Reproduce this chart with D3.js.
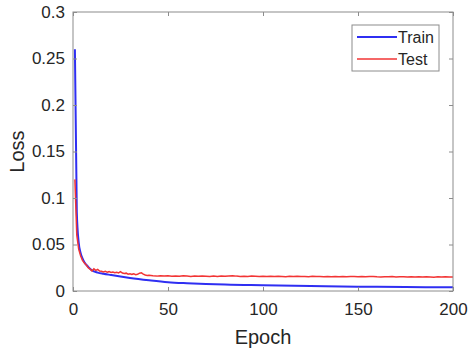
<!DOCTYPE html>
<html>
<head>
<meta charset="utf-8">
<script src="https://cdn.jsdelivr.net/npm/d3@7"></script>
<style>
  body { margin: 0; background: #fff; }
  svg { display: block; }
</style>
</head>
<body>
<div id="chart"></div>
<script>
// train loss (smooth)
const trainEpochs = [1, 2, 3, 4, 5, 6, 8, 10, 13, 16, 20, 25, 30, 40, 50, 60, 70, 80, 90, 100, 125, 150, 175, 200];
const trainLoss = [0.260, 0.085, 0.052, 0.041, 0.035, 0.031, 0.026, 0.0222, 0.0198, 0.0185, 0.0172, 0.0156, 0.0141, 0.0116, 0.0095, 0.0084, 0.0076, 0.0070, 0.0065, 0.0061, 0.0053, 0.0047, 0.0042, 0.0039];

// test loss (noisy)
const testEpochs = [1, 2, 3, 4, 5, 6, 7, 8, 9, 10, 11, 12, 13, 14, 15, 16, 17, 18, 19, 20,
  21, 22, 23, 24, 25, 26, 27, 28, 29, 30, 31, 32, 33, 34, 35, 36, 37, 38, 39, 40,
  42, 44, 46, 48, 50, 52, 54, 56, 58, 60, 62, 64, 66, 68, 70, 72, 74, 76, 78, 80,
  82, 84, 86, 88, 90, 92, 94, 96, 98, 100, 102, 104, 106, 108, 110, 112, 114, 116, 118, 120,
  122, 124, 126, 128, 130, 132, 134, 136, 138, 140, 142, 144, 146, 148, 150, 152, 154, 156, 158, 160,
  162, 164, 166, 168, 170, 172, 174, 176, 178, 180, 182, 184, 186, 188, 190, 192, 194, 196, 198, 200];
const testLoss = [0.120, 0.060, 0.045, 0.038, 0.033, 0.030, 0.028, 0.025, 0.0235, 0.0215, 0.0238, 0.0222, 0.0232, 0.0215, 0.0212, 0.0205, 0.0212, 0.0203, 0.0208, 0.0199,
  0.0204, 0.0197, 0.0202, 0.0194, 0.0208, 0.0193, 0.0188, 0.0192, 0.0181, 0.0186, 0.0179, 0.0184, 0.0176, 0.0179, 0.0192, 0.0196, 0.0182, 0.0172, 0.0168, 0.0170,
  0.0163, 0.0160, 0.0165, 0.0161, 0.0164, 0.0159, 0.0162, 0.0158, 0.0163, 0.0160, 0.0157, 0.0161, 0.0158, 0.0162, 0.0159, 0.0156, 0.0160, 0.0157, 0.0161, 0.0158,
  0.0162, 0.0165, 0.0160, 0.0157, 0.0159, 0.0156, 0.0160, 0.0158, 0.0155, 0.0158, 0.0156, 0.0159, 0.0155, 0.0158, 0.0157, 0.0154, 0.0158, 0.0156, 0.0159, 0.0155,
  0.0157, 0.0154, 0.0158, 0.0155, 0.0157, 0.0153, 0.0156, 0.0154, 0.0157, 0.0153, 0.0156, 0.0152, 0.0155, 0.0157, 0.0153, 0.0156, 0.0152, 0.0155, 0.0157, 0.0153,
  0.0151, 0.0154, 0.0152, 0.0155, 0.0151, 0.0154, 0.0152, 0.0150, 0.0153, 0.0151, 0.0154, 0.0150, 0.0153, 0.0151, 0.0149, 0.0152, 0.0150, 0.0153, 0.0150, 0.0151];

const xTicks = [0, 50, 100, 150, 200];
const yTicks = [0, 0.05, 0.1, 0.15, 0.2, 0.25, 0.3];
const seriesNames = ["Train", "Test"];
const seriesColors = ["#2f2ff2", "#f23434"];

var margin = {top: 12, right: 21, bottom: 60, left: 73};
var width = 474 - margin.left - margin.right,
    height = 351 - margin.top - margin.bottom;

const font = "'Liberation Sans', Arial, sans-serif";
const axisColor = "#8c8c8c";

const svg = d3.select("#chart")
  .append("svg")
  .attr("width", 474)
  .attr("height", 351)
  .append("g")
  .attr("transform", "translate(" + margin.left + "," + margin.top + ")");

const x = d3.scaleLinear().domain([0, 200]).range([0, width]);
const y = d3.scaleLinear().domain([0, 0.3]).range([height, 0]);

// lines
const line = d3.line()
  .x(d => x(d[0]))
  .y(d => y(d[1]))
  .curve(d3.curveMonotoneX);

const train = d3.zip(trainEpochs, trainLoss);
const test = d3.zip(testEpochs, testLoss);

svg.append("path")
  .datum(train)
  .attr("fill", "none")
  .attr("stroke", seriesColors[0])
  .attr("stroke-width", 2)
  .attr("d", line);

svg.append("path")
  .datum(test)
  .attr("fill", "none")
  .attr("stroke", seriesColors[1])
  .attr("stroke-width", 1.5)
  .attr("d", d3.line().x(d => x(d[0])).y(d => y(d[1])));

// axes, ticks inward on all four sides
function styleAxis(g) {
  g.select(".domain").remove();
  g.selectAll(".tick line").attr("stroke", axisColor);
  g.selectAll(".tick text")
    .attr("fill", "#262626")
    .attr("font-family", font)
    .attr("font-size", "17px");
}

svg.append("g")
  .attr("transform", `translate(0,${height})`)
  .call(d3.axisBottom(x).tickValues(xTicks).tickSizeInner(-4).tickSizeOuter(0).tickPadding(12).tickFormat(d3.format("d")))
  .call(styleAxis);

svg.append("g")
  .call(d3.axisLeft(y).tickValues(yTicks).tickSizeInner(-4).tickSizeOuter(0).tickPadding(8).tickFormat(d => d3.format("")(+d.toFixed(2))))
  .call(styleAxis);

svg.append("g")
  .call(d3.axisTop(x).tickValues(xTicks).tickSizeInner(-4).tickSizeOuter(0).tickFormat(""))
  .call(styleAxis);

svg.append("g")
  .attr("transform", `translate(${width},0)`)
  .call(d3.axisRight(y).tickValues(yTicks).tickSizeInner(-4).tickSizeOuter(0).tickFormat(""))
  .call(styleAxis);

// box
svg.append("rect")
  .attr("width", width)
  .attr("height", height)
  .attr("fill", "none")
  .attr("stroke", axisColor)
  .attr("stroke-width", 1);

// axis labels
svg.append("text")
  .attr("x", width / 2)
  .attr("y", height + 53)
  .attr("text-anchor", "middle")
  .attr("font-family", font)
  .attr("font-size", "20px")
  .attr("fill", "#262626")
  .text("Epoch");

svg.append("text")
  .attr("transform", `translate(${-49},${height / 2}) rotate(-90)`)
  .attr("text-anchor", "middle")
  .attr("font-family", font)
  .attr("font-size", "20px")
  .attr("fill", "#262626")
  .text("Loss");

// legend
const legend = svg.append("g")
  .attr("transform", `translate(${352 - margin.left},${25 - margin.top})`);

legend.append("rect")
  .attr("width", 87)
  .attr("height", 46)
  .attr("fill", "#fff")
  .attr("stroke", axisColor);

const items = legend.selectAll(".item")
  .data(seriesNames)
  .enter().append("g")
  .attr("class", "item")
  .attr("transform", (d, i) => `translate(0,${12 + i * 22})`);

items.append("line")
  .attr("x1", 5)
  .attr("x2", 45)
  .attr("stroke", (d, i) => seriesColors[i])
  .attr("stroke-width", (d, i) => i ? 1.5 : 2);

items.append("text")
  .attr("x", 46)
  .attr("dy", "0.35em")
  .attr("font-family", font)
  .attr("font-size", "16px")
  .attr("fill", "#262626")
  .text(d => d);
</script>
</body>
</html>
